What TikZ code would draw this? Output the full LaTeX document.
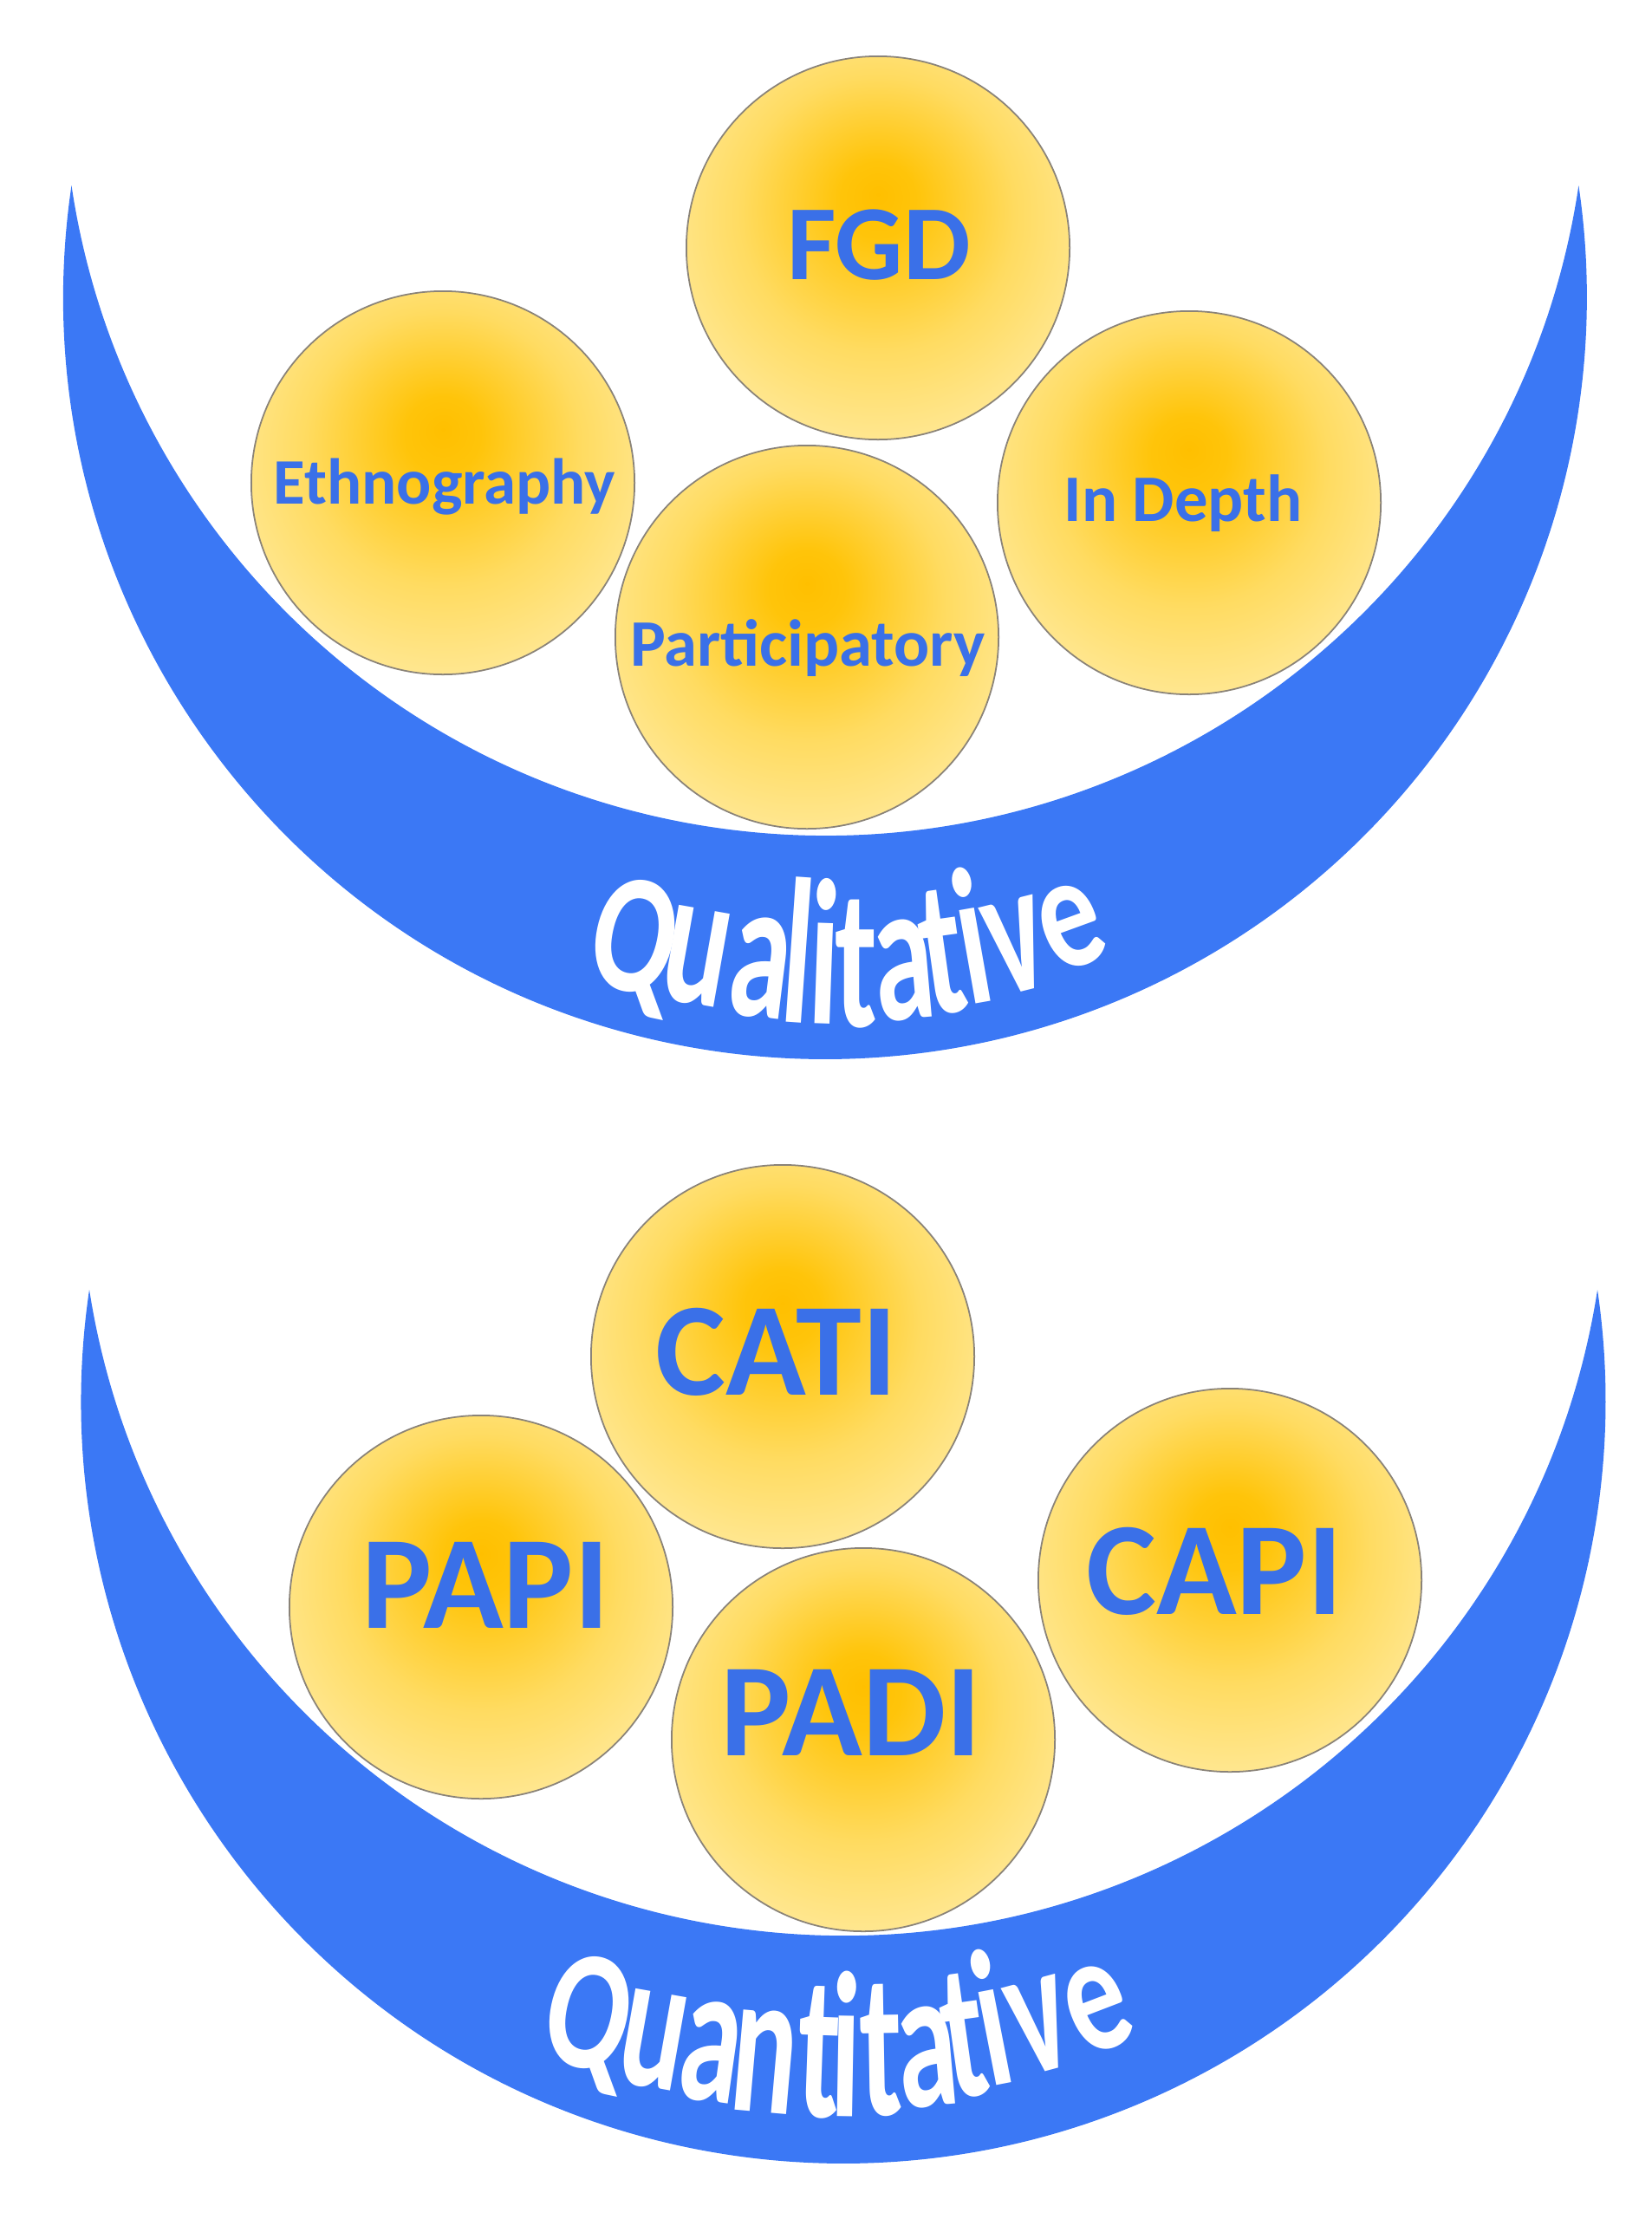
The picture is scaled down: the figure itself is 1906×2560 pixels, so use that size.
\documentclass[tikz,border=0pt]{standalone}
\usepackage{fontspec}
\setmainfont{Carlito}
\definecolor{cblue}{HTML}{3B78F5}
\definecolor{tblue}{HTML}{3A70E8}
\definecolor{rim}{HTML}{8A8378}
\pgfdeclareradialshading{ballshade}{\pgfpoint{0bp}{7bp}}{rgb(0bp)=(1,0.75,0); rgb(5bp)=(1,0.77,0.04); rgb(18bp)=(1,0.86,0.38); rgb(34bp)=(1,0.93,0.67); rgb(50bp)=(1,0.975,0.89)}
\tikzset{
  ball/.style={circle, inner sep=0pt, minimum size=4.42cm, draw=rim, line width=0.5pt, shade, shading=ballshade},
  lbl/.style={anchor=base, inner sep=0pt, text=tblue},
  wlet/.style={anchor=base, inner sep=0pt, text=white, font=\fontsize{40pt}{46pt}\selectfont\bfseries}
}
\begin{document}
\begin{tikzpicture}[x=0.01cm, y=-0.01cm]
\useasboundingbox (0,0) rectangle (1906,2560);
% top crescent
\coordinate (tl) at (82.5,214);
\fill[cblue] (tl) arc[start angle=188.44, end angle=-8.44, radius=879]
                  arc[start angle=8.44, end angle=171.56, radius=879] -- cycle;
% bottom crescent
\coordinate (bl) at (103,1488);
\fill[cblue] (bl) arc[start angle=188.40, end angle=-8.40, radius=879.5]
                  arc[start angle=8.85, end angle=171.15, radius=880.5] -- cycle;
% top balls
\node[ball] (fgd) at (1013,286) {};
\node[ball] (eth) at (511,557) {};
\node[ball] (ind) at (1372,580) {};
\node[ball] (par) at (931,735) {};
\node[lbl, font=\fontsize{35pt}{40pt}\selectfont\bfseries] (fgdt) at (1014,322) {FGD};
\node[lbl, font=\fontsize{21.3pt}{25pt}\selectfont\bfseries] (etht) at (513,581) {Ethnography};
\node[lbl, font=\fontsize{21.8pt}{25pt}\selectfont\bfseries] (indt) at (1365,601) {In Depth};
\node[lbl, font=\fontsize{21.8pt}{25pt}\selectfont\bfseries] (part) at (932,768) {Participatory};
% bottom balls
\node[ball] (cati) at (903,1565) {};
\node[ball] (papi) at (555,1854) {};
\node[ball] (capi) at (1419,1823) {};
\node[ball] (padi) at (996,2007) {};
\node[lbl, font=\fontsize{43.5pt}{48pt}\selectfont\bfseries] (catit) at (896,1609) {CATI};
\node[lbl, font=\fontsize{43.5pt}{48pt}\selectfont\bfseries] (papit) at (560,1878) {PAPI};
\node[lbl, font=\fontsize{43.5pt}{48pt}\selectfont\bfseries] (capit) at (1401,1862) {CAPI};
\node[lbl, font=\fontsize{43.5pt}{48pt}\selectfont\bfseries] (padit) at (982,2025) {PADI};
% curved white words
\foreach \ch/\x/\y/\r/\s [count=\i] in {Q/720/1143/-12/1.4, u/795/1157/-10/1.6, a/871/1173/-7/1.65, l/916/1180/-4/1.7, i/949/1181/-2/1.7, t/988/1184/0/1.65, a/1048/1175/5/1.65, t/1097/1168/8/1.6, i/1134/1156/10/1.6, v/1186/1142/14/1.55, e/1252/1112/20/1.35}
  \node[wlet, rotate=\r] (ql\i) at (\x,\y) {\scalebox{1}[\s]{\ch}};
\foreach \ch/\x/\y/\r/\s [count=\i] in {Q/667/2385/-12/1.4, u/745/2407/-10/1.6, a/813/2423/-8/1.65, n/877/2437/-5/1.7, t/943/2442/-2/1.7, i/975/2442/-1/1.7, t/1018/2440/1/1.7, a/1075/2429/5/1.65, t/1122/2418/8/1.6, i/1158/2404/11/1.6, v/1214/2388/15/1.55, e/1284/2362/21/1.4}
  \node[wlet, rotate=\r] (qn\i) at (\x,\y) {\scalebox{1}[\s]{\ch}};
\end{tikzpicture}
\end{document}
